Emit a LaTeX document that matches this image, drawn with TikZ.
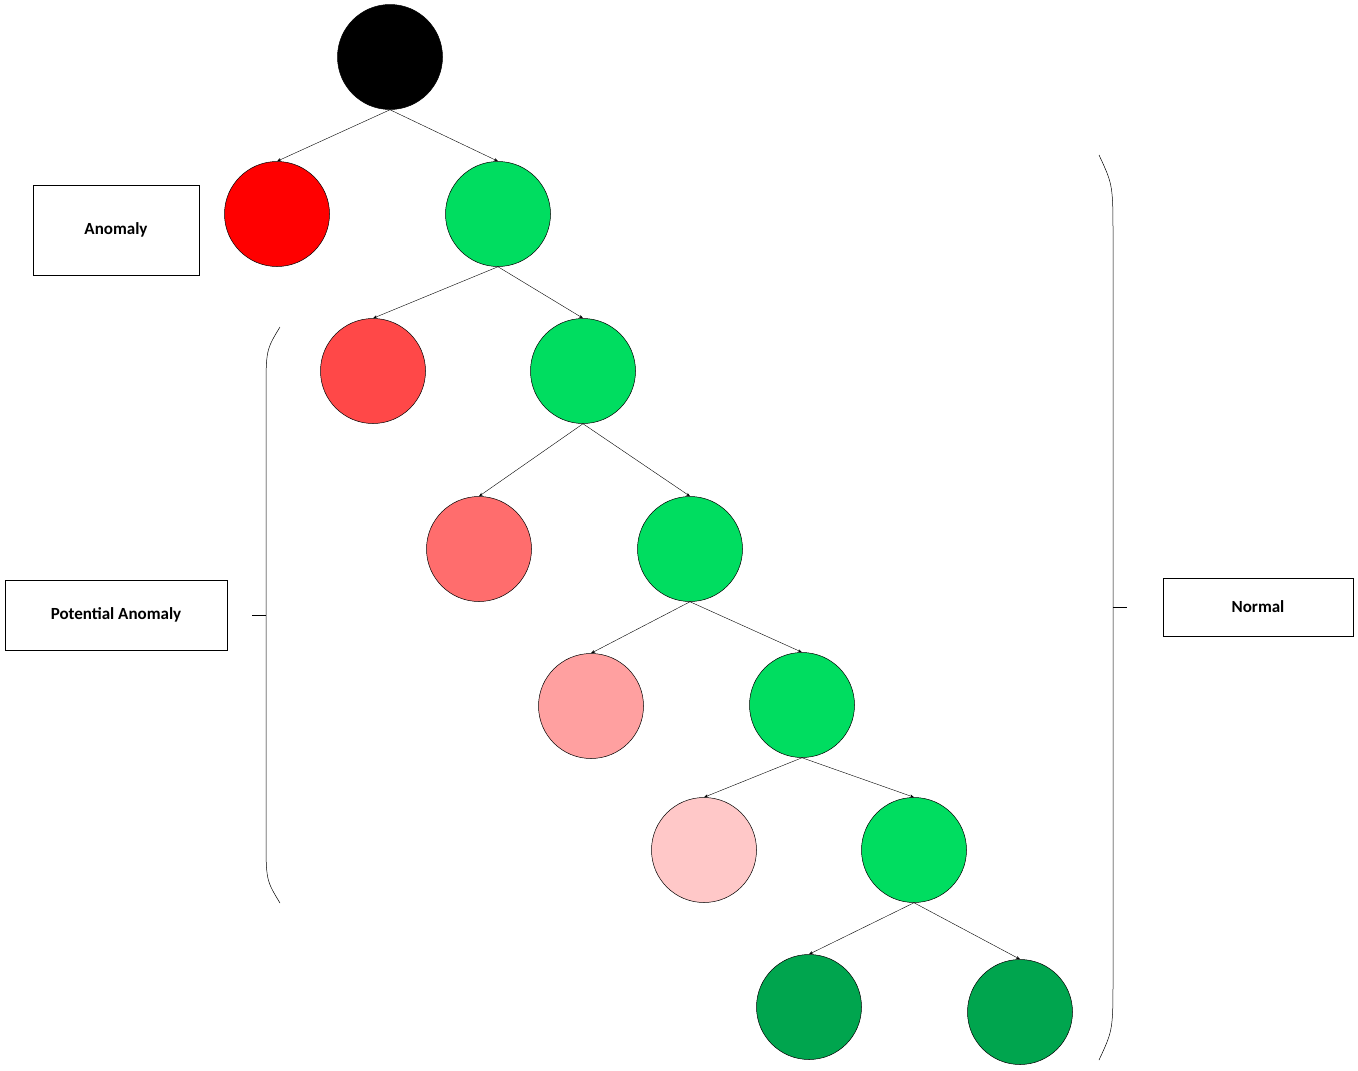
\documentclass[tikz,border=0pt]{standalone}
\usepackage{fontspec}
\setmainfont{Carlito}
\usetikzlibrary{arrows.meta}
\definecolor{gr}{HTML}{00DD60}
\definecolor{dg}{HTML}{00A54E}
\definecolor{r1}{HTML}{FF0000}
\definecolor{r2}{HTML}{FF4848}
\definecolor{r3}{HTML}{FF6D6D}
\definecolor{r4}{HTML}{FFA0A0}
\definecolor{r5}{HTML}{FFC8C8}
\begin{document}
\begin{tikzpicture}[x=1pt,y=-1pt,
  dot/.style={circle,draw=black,line width=0.5pt,minimum size=105pt,inner sep=0pt},
  edge/.style={line width=0.4pt,-{Stealth[length=4pt,width=3pt]}},
  lab/.style={draw=black,line width=0.5pt,font=\bfseries\fontsize{17}{20}\selectfont,inner sep=0pt}]
\useasboundingbox[fill=white] (0,0) rectangle (1358,1071);
\node[dot,fill=black] (n0) at (390,57) {};
\node[dot,fill=r1] (a1) at (277,214) {};
\node[dot,fill=gr] (g1) at (498,214) {};
\node[dot,fill=r2] (a2) at (373,371) {};
\node[dot,fill=gr] (g2) at (583,371) {};
\node[dot,fill=r3] (a3) at (479,549) {};
\node[dot,fill=gr] (g3) at (690,549) {};
\node[dot,fill=r4] (a4) at (591,706) {};
\node[dot,fill=gr] (g4) at (802,705) {};
\node[dot,fill=r5] (a5) at (704,850) {};
\node[dot,fill=gr] (g5) at (914,850) {};
\node[dot,fill=dg] (d1) at (809,1007) {};
\node[dot,fill=dg] (d2) at (1020,1012) {};
\foreach \p/\c in {n0/a1,n0/g1,g1/a2,g1/g2,g2/a3,g2/g3,g3/a4,g3/g4,g4/a5,g4/g5,g5/d1,g5/d2}
  \draw[edge] (\p.south) -- (\c.north);
\node[lab,minimum width=166pt,minimum height=90pt] (t1) at (116,230) {Anomaly};
\node[lab,minimum width=222pt,minimum height=70pt] (t2) at (116,615) {Potential Anomaly};
\node[lab,minimum width=190pt,minimum height=58pt] (t3) at (1258,607) {Normal};
\coordinate (lt) at (280,327); \coordinate (lb) at (280,903);
\coordinate (rt) at (1099,155); \coordinate (rb) at (1099,1060);
\draw[line width=0.5pt] (lt) .. controls (266,350) .. (266,395) -- (266,835) .. controls (266,880) .. (lb);
\draw[line width=0.5pt] (252,615) -- (266,615);
\draw[line width=0.5pt] (rt) .. controls (1113,185) .. (1113,240) -- (1113,975) .. controls (1113,1030) .. (rb);
\draw[line width=0.5pt] (1113,607) -- (1127,607);
\end{tikzpicture}
\end{document}
